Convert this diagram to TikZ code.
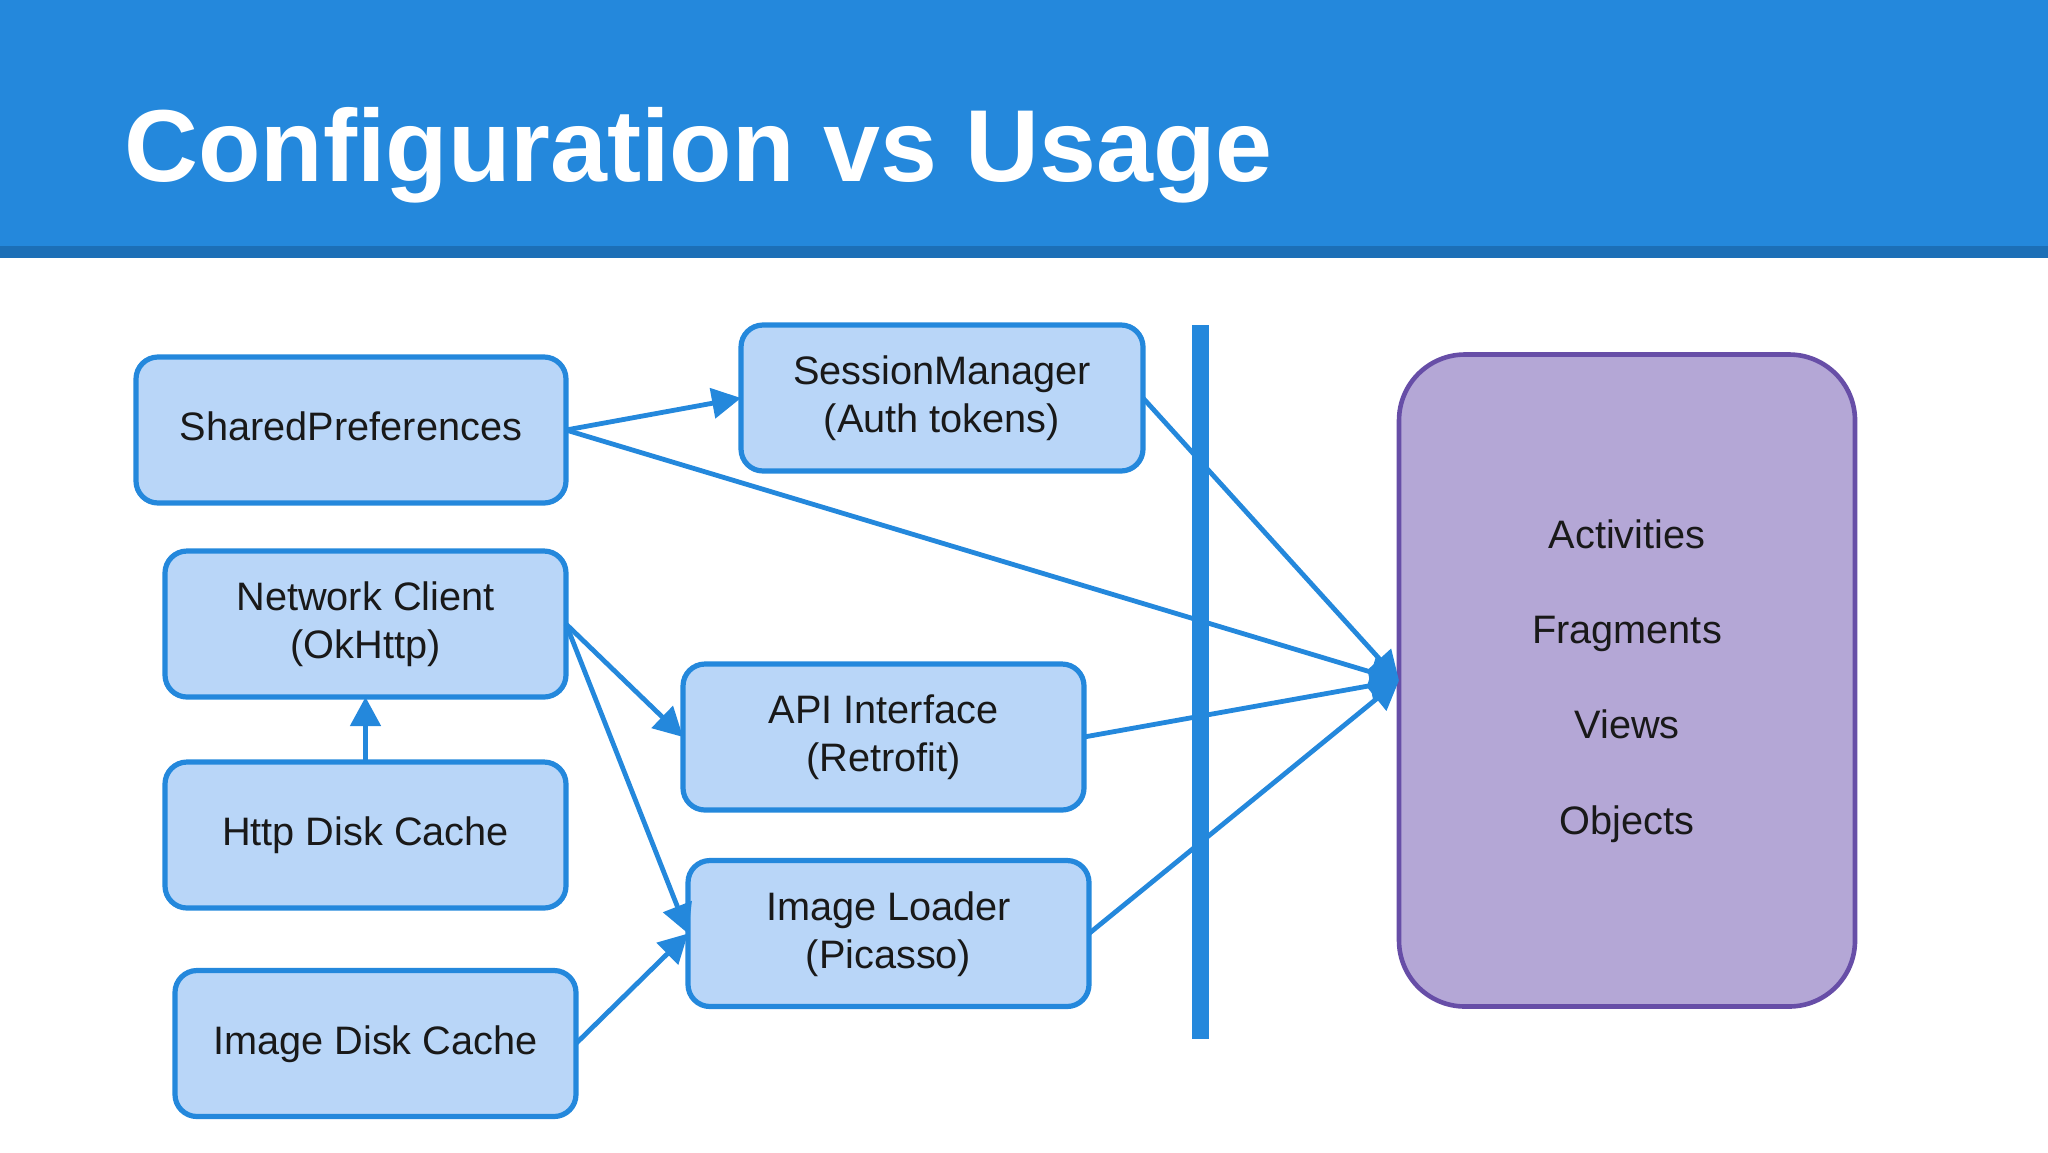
\documentclass[tikz,border=0pt]{standalone}
\usepackage{fontspec}
\setmainfont{Liberation Sans}
\usepackage{xcolor}
\usetikzlibrary{
	positioning,
	arrows.meta
}
\definecolor{slideblue}{HTML}{2488DC}
\definecolor{slideband}{HTML}{1C6FB7}
\definecolor{boxfill}{HTML}{B9D6F8}
\definecolor{usagefill}{HTML}{B4A7D6}
\definecolor{usageline}{HTML}{674EA7}
\newcommand{\firstline}{\rule[-4.2pt]{0pt}{19pt}}

\begin{document}
\begin{tikzpicture}[x=0.5pt, y=-0.5pt]
		\tikzstyle{box} = [draw=slideblue, fill=boxfill, line width=2.6pt, rounded corners=11pt, minimum height=73pt, align=center, inner sep=0pt, outer sep=0pt, font=\fontsize{19.85}{23.8}\selectfont, text=black!90]
		\tikzstyle{usage} = [draw=usageline, fill=usagefill, line width=2.3pt, rounded corners=33pt, minimum width=228pt, minimum height=326pt, align=center, inner sep=0pt, outer sep=0pt, font=\fontsize{19.85}{23.8}\selectfont, text=black!90]
		\tikzstyle{link} = [draw=slideblue, line width=2.4pt, -{Triangle[length=14.5pt, width=15pt]}]
		\useasboundingbox (0,0) rectangle (2048,1152);

		% Header
		\node[fill=slideblue, minimum width=1024pt, minimum height=123pt, inner sep=0pt, outer sep=0pt] at (1024,123) (header) {};
		\node[fill=slideband, minimum width=1024pt, minimum height=6pt, inner sep=0pt, outer sep=0pt] at (1024,252) (headerBand) {};
		\node[anchor=base west, inner sep=0pt, text=white, font=\fontsize{51.15}{60}\selectfont\bfseries] at (124,181) (title) {Configuration vs Usage};

		% Boxes
		\foreach \name/\xc/\yc/\wid/\txt in {
			sharedPrefs/351/430/215/{SharedPreferences},
			sessionMgr/942/398/201/{SessionManager\\(Auth tokens)},
			netClient/365.5/624/200.5/{Network Client\\(OkHttp)},
			httpCache/365.5/835/200.5/{Http Disk Cache},
			imageCache/375.5/1043.5/200.5/{Image Disk Cache},
			apiIface/883.5/737/200.5/{API Interface\\(Retrofit)},
			imageLoader/888.5/933.5/200.5/{Image Loader\\(Picasso)}}{
			\node[box, minimum width=\wid pt] at (\xc,\yc) (\name) {\firstline\txt};
		}

		% Divider
		\node[fill=slideblue, minimum width=8.5pt, minimum height=357pt, inner sep=0pt, outer sep=0pt] at (1200.5,682) (divider) {};

		% Usage side
		\node[usage] at (1627,680.5) (usageBox) {\firstline Activities\\[23.9pt]Fragments\\[23.9pt]Views\\[23.9pt]Objects};

		% Arrows
		\foreach \src/\dst in {sharedPrefs/sessionMgr, netClient/apiIface, netClient/imageLoader, imageCache/imageLoader, sharedPrefs/usageBox, sessionMgr/usageBox, apiIface/usageBox, imageLoader/usageBox}{
			\draw[link] (\src.east) to (\dst.west);
		}
		\draw[link] (httpCache.north) to (netClient.south);
	\end{tikzpicture}
\end{document}
